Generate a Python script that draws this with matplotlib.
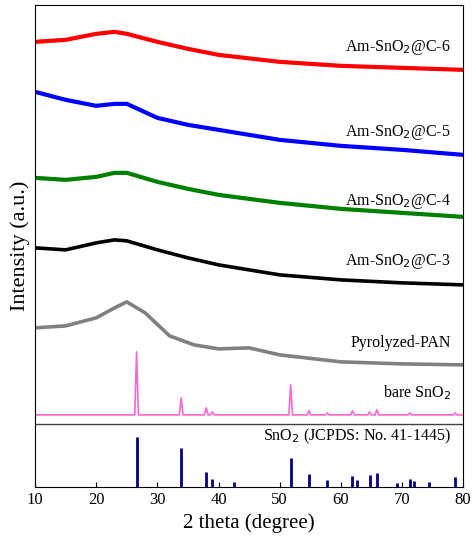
import numpy as np
import matplotlib.pyplot as plt

plt.rcParams['font.family'] = ['Liberation Serif', 'DejaVu Serif']

# broad amorphous curves, read as pixel heights (converted below)
x_am = [10, 15, 20, 23, 25, 30, 35, 40, 50, 60, 70, 80]
red = [42, 40, 34, 32, 34, 42, 49, 55, 62, 66, 68, 70]
blue = [92, 100, 106, 104, 104, 118, 125, 130, 140, 146, 150, 155]
green = [178, 180, 177, 173, 173, 182, 189, 195, 203, 209, 213, 217]
black = [248, 250, 243, 240, 241, 250, 258, 265, 275, 280, 283, 285]
x_pan = [10, 15, 20, 23, 25, 28, 32, 36, 40, 45, 50, 60, 70, 80]
gray = [328, 326, 318, 308, 302, 313, 336, 345, 349, 348, 355, 362, 364, 365]

# bare SnO2 peaks (position, top pixel), baseline 415
bare_pos = [26.6, 33.9, 38.0, 39.0, 51.8, 54.8, 57.8, 61.9, 64.7, 65.9, 71.3, 78.7]
bare_top = [352, 398, 408, 412, 385, 411, 413, 411, 412, 410, 413, 413]
# JCPDS 41-1445 sticks (position, top pixel), baseline 487
ref_pos = [26.6, 33.9, 37.9, 38.9, 42.6, 51.8, 54.8, 57.8, 61.9, 62.6, 64.7, 66.0,
           69.2, 71.3, 71.9, 74.5, 78.7]
ref_top = [437, 448, 472, 479, 482, 458, 474, 480, 476, 480, 475, 473,
           483, 479, 481, 482, 477]

def h(p):
    return (487 - np.asarray(p, dtype=float)) / 4.82

fig = plt.figure(figsize=(4.74, 5.38), dpi=100)
ax = fig.add_axes([0.074, 0.095, 0.903, 0.896])

ax.plot(x_am, h(red), color='#ff0000', lw=3)
ax.plot(x_am, h(blue), color='#0000ff', lw=3)
ax.plot(x_am, h(green), color='#008000', lw=3)
ax.plot(x_am, h(black), color='black', lw=2.6)
ax.plot(x_pan, h(gray), color='#808080', lw=2.6)

bx, by = [10], [415]
for p, t in zip(bare_pos, bare_top):
    bx += [p - 0.3, p, p + 0.3]
    by += [415, t, 415]
bx.append(80); by.append(415)
ax.plot(bx, h(by), color='#ff66cc', lw=1.2)

ax.vlines(ref_pos, 0, h(ref_top), color='#000080', lw=2)
ax.axhline(h(424), color='#404040', lw=1)

labels = [('Am-SnO$_2$@C-6', 48), ('Am-SnO$_2$@C-5', 133), ('Am-SnO$_2$@C-4', 202),
          ('Am-SnO$_2$@C-3', 262), ('Pyrolyzed-PAN', 343), ('bare SnO$_2$', 393),
          ('SnO$_2$ (JCPDS: No. 41-1445)', 437)]
for txt, py in labels:
    ax.text(78, h(py), txt, ha='right', va='center', fontsize=11.5)

ax.set_xlim(10, 80)
ax.set_ylim(0, 100)
ax.set_yticks([])
ax.set_xticks(range(10, 81, 10))
ax.tick_params(axis='x', labelsize=12, direction='in')
ax.set_xlabel('2 theta (degree)', fontsize=15)
ax.set_ylabel('Intensity (a.u.)', fontsize=16, labelpad=4)

fig.savefig('out.png', dpi=100)
